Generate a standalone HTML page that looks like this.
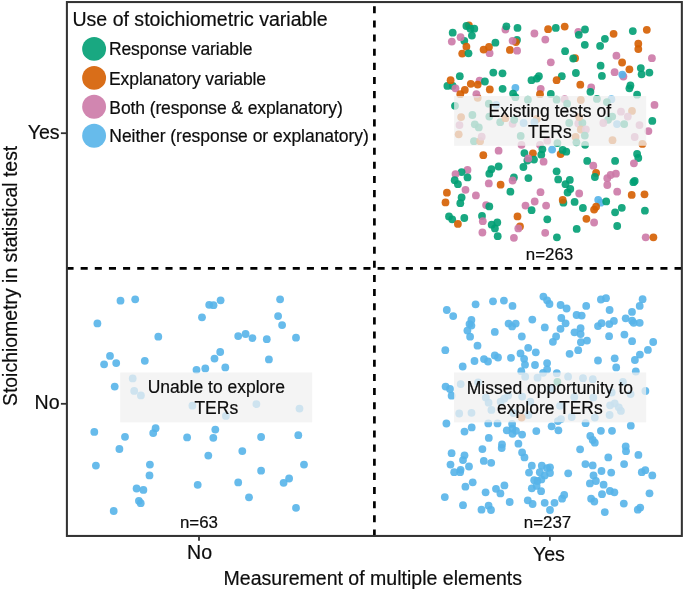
<!DOCTYPE html>
<html><head><meta charset="utf-8"><title>Use of stoichiometric variable</title>
<style>
html,body{margin:0;padding:0;background:#fff}
body{width:685px;height:590px;overflow:hidden}
svg{display:block}
text{font-family:"Liberation Sans",sans-serif;fill:#0d0d0d;stroke:#0d0d0d;stroke-width:0.2px}
</style></head><body>
<svg width="685" height="590" viewBox="0 0 685 590">
<rect width="685" height="590" fill="#fff"/>
<!-- dots -->
<g fill-opacity="0.9"><circle cx="477.7" cy="97.8" r="3.9" fill="#D55E00"/><circle cx="560.6" cy="154.1" r="3.9" fill="#D55E00"/><circle cx="479.6" cy="80.7" r="3.9" fill="#CC79A7"/><circle cx="489.6" cy="53.2" r="3.9" fill="#CC79A7"/><circle cx="468.9" cy="25.4" r="3.9" fill="#D55E00"/><circle cx="452.7" cy="32.7" r="3.9" fill="#009E73"/><circle cx="451.8" cy="41.6" r="3.9" fill="#CC79A7"/><circle cx="466.4" cy="26.0" r="3.9" fill="#009E73"/><circle cx="470.4" cy="28.7" r="3.9" fill="#009E73"/><circle cx="474.3" cy="28.7" r="3.9" fill="#009E73"/><circle cx="471.9" cy="35.6" r="3.9" fill="#009E73"/><circle cx="464.3" cy="40.8" r="3.9" fill="#009E73"/><circle cx="466.4" cy="46.7" r="3.9" fill="#D55E00"/><circle cx="462.2" cy="53.6" r="3.9" fill="#D55E00"/><circle cx="468.5" cy="53.3" r="3.9" fill="#009E73"/><circle cx="483.6" cy="49.6" r="3.9" fill="#D55E00"/><circle cx="489.0" cy="46.9" r="3.9" fill="#D55E00"/><circle cx="495.4" cy="42.7" r="3.9" fill="#009E73"/><circle cx="505.4" cy="29.5" r="3.9" fill="#CC79A7"/><circle cx="506.4" cy="26.3" r="3.9" fill="#009E73"/><circle cx="517.5" cy="27.9" r="3.9" fill="#009E73"/><circle cx="517.0" cy="40.0" r="3.9" fill="#009E73"/><circle cx="515.9" cy="42.1" r="3.9" fill="#D55E00"/><circle cx="512.6" cy="40.8" r="3.9" fill="#CC79A7"/><circle cx="509.9" cy="49.9" r="3.9" fill="#D55E00"/><circle cx="517.1" cy="50.7" r="3.9" fill="#CC79A7"/><circle cx="534.4" cy="33.5" r="3.9" fill="#CC79A7"/><circle cx="545.3" cy="39.6" r="3.9" fill="#CC79A7"/><circle cx="548.1" cy="29.2" r="3.9" fill="#D55E00"/><circle cx="550.8" cy="62.3" r="3.9" fill="#CC79A7"/><circle cx="459.8" cy="76.2" r="3.9" fill="#009E73"/><circle cx="447.4" cy="85.9" r="3.9" fill="#009E73"/><circle cx="452.7" cy="85.9" r="3.9" fill="#009E73"/><circle cx="455.5" cy="88.3" r="3.9" fill="#CC79A7"/><circle cx="470.8" cy="83.8" r="3.9" fill="#D55E00"/><circle cx="477.7" cy="84.6" r="3.9" fill="#D55E00"/><circle cx="484.9" cy="81.5" r="3.9" fill="#009E73"/><circle cx="464.8" cy="89.9" r="3.9" fill="#D55E00"/><circle cx="460.3" cy="94.2" r="3.9" fill="#D55E00"/><circle cx="476.4" cy="94.2" r="3.9" fill="#CC79A7"/><circle cx="489.8" cy="89.4" r="3.9" fill="#D55E00"/><circle cx="493.3" cy="72.6" r="3.9" fill="#009E73"/><circle cx="502.5" cy="73.3" r="3.9" fill="#009E73"/><circle cx="502.6" cy="88.8" r="3.9" fill="#009E73"/><circle cx="515.4" cy="87.8" r="3.9" fill="#56B4E9"/><circle cx="513.1" cy="93.6" r="3.9" fill="#009E73"/><circle cx="531.5" cy="80.2" r="3.9" fill="#009E73"/><circle cx="536.8" cy="78.6" r="3.9" fill="#009E73"/><circle cx="538.9" cy="76.2" r="3.9" fill="#009E73"/><circle cx="540.7" cy="88.8" r="3.9" fill="#CC79A7"/><circle cx="540.0" cy="94.2" r="3.9" fill="#D55E00"/><circle cx="550.8" cy="93.9" r="3.9" fill="#009E73"/><circle cx="555.8" cy="27.9" r="3.9" fill="#009E73"/><circle cx="564.7" cy="26.6" r="3.9" fill="#D55E00"/><circle cx="578.3" cy="31.9" r="3.9" fill="#CC79A7"/><circle cx="578.8" cy="34.8" r="3.9" fill="#009E73"/><circle cx="585.0" cy="29.5" r="3.9" fill="#009E73"/><circle cx="584.8" cy="44.8" r="3.9" fill="#009E73"/><circle cx="565.1" cy="51.2" r="3.9" fill="#009E73"/><circle cx="575.1" cy="58.2" r="3.9" fill="#D55E00"/><circle cx="573.2" cy="58.5" r="3.9" fill="#009E73"/><circle cx="575.9" cy="73.0" r="3.9" fill="#009E73"/><circle cx="561.8" cy="76.2" r="3.9" fill="#009E73"/><circle cx="556.6" cy="80.2" r="3.9" fill="#D55E00"/><circle cx="580.3" cy="84.7" r="3.9" fill="#D55E00"/><circle cx="591.2" cy="87.5" r="3.9" fill="#CC79A7"/><circle cx="590.4" cy="91.8" r="3.9" fill="#009E73"/><circle cx="604.9" cy="38.8" r="3.9" fill="#009E73"/><circle cx="600.1" cy="45.9" r="3.9" fill="#009E73"/><circle cx="613.6" cy="33.8" r="3.9" fill="#D55E00"/><circle cx="600.6" cy="65.7" r="3.9" fill="#009E73"/><circle cx="601.9" cy="75.9" r="3.9" fill="#009E73"/><circle cx="616.4" cy="55.7" r="3.9" fill="#CC79A7"/><circle cx="622.1" cy="62.5" r="3.9" fill="#D55E00"/><circle cx="629.4" cy="69.3" r="3.9" fill="#D55E00"/><circle cx="614.6" cy="72.2" r="3.9" fill="#CC79A7"/><circle cx="623.4" cy="76.5" r="3.9" fill="#CC79A7"/><circle cx="622.3" cy="74.6" r="3.9" fill="#56B4E9"/><circle cx="632.8" cy="31.1" r="3.9" fill="#009E73"/><circle cx="646.8" cy="29.8" r="3.9" fill="#D55E00"/><circle cx="638.3" cy="43.7" r="3.9" fill="#D55E00"/><circle cx="638.3" cy="49.1" r="3.9" fill="#D55E00"/><circle cx="651.9" cy="58.2" r="3.9" fill="#CC79A7"/><circle cx="640.8" cy="68.1" r="3.9" fill="#009E73"/><circle cx="641.6" cy="74.3" r="3.9" fill="#009E73"/><circle cx="649.4" cy="72.6" r="3.9" fill="#009E73"/><circle cx="630.4" cy="85.4" r="3.9" fill="#009E73"/><circle cx="629.4" cy="88.3" r="3.9" fill="#009E73"/><circle cx="637.1" cy="94.7" r="3.9" fill="#009E73"/><circle cx="654.5" cy="104.9" r="3.9" fill="#CC79A7"/><circle cx="455.0" cy="105.8" r="3.9" fill="#009E73"/><circle cx="461.1" cy="117.1" r="3.9" fill="#D55E00"/><circle cx="459.5" cy="125.1" r="3.9" fill="#CC79A7"/><circle cx="458.7" cy="134.3" r="3.9" fill="#D55E00"/><circle cx="472.4" cy="115.0" r="3.9" fill="#009E73"/><circle cx="474.8" cy="124.3" r="3.9" fill="#009E73"/><circle cx="478.8" cy="127.4" r="3.9" fill="#009E73"/><circle cx="474.0" cy="141.2" r="3.9" fill="#009E73"/><circle cx="480.1" cy="141.2" r="3.9" fill="#D55E00"/><circle cx="481.7" cy="136.7" r="3.9" fill="#CC79A7"/><circle cx="488.8" cy="103.7" r="3.9" fill="#009E73"/><circle cx="496.2" cy="104.8" r="3.9" fill="#56B4E9"/><circle cx="489.3" cy="116.6" r="3.9" fill="#009E73"/><circle cx="500.2" cy="122.2" r="3.9" fill="#009E73"/><circle cx="505.4" cy="118.2" r="3.9" fill="#D55E00"/><circle cx="512.6" cy="123.8" r="3.9" fill="#CC79A7"/><circle cx="514.2" cy="119.8" r="3.9" fill="#009E73"/><circle cx="523.6" cy="123.0" r="3.9" fill="#56B4E9"/><circle cx="527.9" cy="99.7" r="3.9" fill="#009E73"/><circle cx="515.4" cy="97.2" r="3.9" fill="#009E73"/><circle cx="520.7" cy="135.9" r="3.9" fill="#009E73"/><circle cx="521.5" cy="144.8" r="3.9" fill="#CC79A7"/><circle cx="536.8" cy="119.0" r="3.9" fill="#D55E00"/><circle cx="534.4" cy="122.2" r="3.9" fill="#56B4E9"/><circle cx="547.3" cy="140.7" r="3.9" fill="#CC79A7"/><circle cx="540.0" cy="144.8" r="3.9" fill="#CC79A7"/><circle cx="498.6" cy="150.7" r="3.9" fill="#CC79A7"/><circle cx="483.3" cy="155.2" r="3.9" fill="#D55E00"/><circle cx="524.4" cy="153.1" r="3.9" fill="#009E73"/><circle cx="532.9" cy="153.3" r="3.9" fill="#D55E00"/><circle cx="542.4" cy="149.3" r="3.9" fill="#009E73"/><circle cx="541.3" cy="154.7" r="3.9" fill="#009E73"/><circle cx="552.1" cy="149.6" r="3.9" fill="#56B4E9"/><circle cx="527.4" cy="160.5" r="3.9" fill="#009E73"/><circle cx="534.0" cy="159.6" r="3.9" fill="#009E73"/><circle cx="543.6" cy="161.7" r="3.9" fill="#CC79A7"/><circle cx="523.4" cy="167.0" r="3.9" fill="#009E73"/><circle cx="498.6" cy="166.5" r="3.9" fill="#009E73"/><circle cx="491.4" cy="169.2" r="3.9" fill="#009E73"/><circle cx="489.3" cy="173.7" r="3.9" fill="#009E73"/><circle cx="467.5" cy="170.0" r="3.9" fill="#CC79A7"/><circle cx="461.6" cy="172.1" r="3.9" fill="#009E73"/><circle cx="455.5" cy="174.1" r="3.9" fill="#CC79A7"/><circle cx="467.5" cy="177.4" r="3.9" fill="#009E73"/><circle cx="454.7" cy="180.2" r="3.9" fill="#009E73"/><circle cx="457.9" cy="184.2" r="3.9" fill="#009E73"/><circle cx="528.4" cy="178.1" r="3.9" fill="#009E73"/><circle cx="513.9" cy="177.4" r="3.9" fill="#009E73"/><circle cx="512.6" cy="180.5" r="3.9" fill="#CC79A7"/><circle cx="488.8" cy="183.4" r="3.9" fill="#CC79A7"/><circle cx="500.6" cy="184.7" r="3.9" fill="#D55E00"/><circle cx="465.5" cy="189.8" r="3.9" fill="#CC79A7"/><circle cx="446.9" cy="192.7" r="3.9" fill="#D55E00"/><circle cx="461.6" cy="197.4" r="3.9" fill="#009E73"/><circle cx="445.5" cy="202.4" r="3.9" fill="#D55E00"/><circle cx="460.3" cy="203.2" r="3.9" fill="#009E73"/><circle cx="475.9" cy="195.4" r="3.9" fill="#CC79A7"/><circle cx="449.0" cy="216.4" r="3.9" fill="#009E73"/><circle cx="452.2" cy="219.3" r="3.9" fill="#009E73"/><circle cx="464.3" cy="218.0" r="3.9" fill="#009E73"/><circle cx="457.9" cy="223.9" r="3.9" fill="#D55E00"/><circle cx="486.1" cy="205.1" r="3.9" fill="#CC79A7"/><circle cx="489.3" cy="206.4" r="3.9" fill="#009E73"/><circle cx="482.0" cy="216.0" r="3.9" fill="#009E73"/><circle cx="482.8" cy="221.2" r="3.9" fill="#CC79A7"/><circle cx="482.4" cy="232.5" r="3.9" fill="#CC79A7"/><circle cx="491.7" cy="224.7" r="3.9" fill="#009E73"/><circle cx="497.3" cy="222.5" r="3.9" fill="#009E73"/><circle cx="494.9" cy="228.4" r="3.9" fill="#009E73"/><circle cx="497.7" cy="236.2" r="3.9" fill="#009E73"/><circle cx="510.4" cy="191.7" r="3.9" fill="#009E73"/><circle cx="540.5" cy="192.2" r="3.9" fill="#CC79A7"/><circle cx="534.7" cy="201.5" r="3.9" fill="#CC79A7"/><circle cx="525.5" cy="205.6" r="3.9" fill="#CC79A7"/><circle cx="531.6" cy="210.2" r="3.9" fill="#009E73"/><circle cx="546.1" cy="205.6" r="3.9" fill="#CC79A7"/><circle cx="517.5" cy="216.4" r="3.9" fill="#D55E00"/><circle cx="520.0" cy="226.5" r="3.9" fill="#D55E00"/><circle cx="518.3" cy="228.4" r="3.9" fill="#CC79A7"/><circle cx="513.9" cy="237.8" r="3.9" fill="#CC79A7"/><circle cx="547.3" cy="219.3" r="3.9" fill="#009E73"/><circle cx="545.2" cy="232.8" r="3.9" fill="#CC79A7"/><circle cx="564.7" cy="99.2" r="3.9" fill="#CC79A7"/><circle cx="556.6" cy="99.7" r="3.9" fill="#009E73"/><circle cx="567.1" cy="103.7" r="3.9" fill="#009E73"/><circle cx="580.8" cy="100.0" r="3.9" fill="#D55E00"/><circle cx="596.9" cy="98.9" r="3.9" fill="#009E73"/><circle cx="611.4" cy="99.2" r="3.9" fill="#56B4E9"/><circle cx="606.9" cy="102.1" r="3.9" fill="#009E73"/><circle cx="621.0" cy="111.7" r="3.9" fill="#CC79A7"/><circle cx="632.0" cy="110.9" r="3.9" fill="#D55E00"/><circle cx="627.8" cy="116.6" r="3.9" fill="#CC79A7"/><circle cx="612.2" cy="116.6" r="3.9" fill="#009E73"/><circle cx="608.1" cy="119.8" r="3.9" fill="#009E73"/><circle cx="603.3" cy="123.0" r="3.9" fill="#CC79A7"/><circle cx="617.0" cy="124.1" r="3.9" fill="#56B4E9"/><circle cx="624.2" cy="124.1" r="3.9" fill="#009E73"/><circle cx="639.5" cy="125.1" r="3.9" fill="#CC79A7"/><circle cx="634.7" cy="137.0" r="3.9" fill="#CC79A7"/><circle cx="612.5" cy="140.2" r="3.9" fill="#D55E00"/><circle cx="642.4" cy="143.9" r="3.9" fill="#D55E00"/><circle cx="569.2" cy="123.0" r="3.9" fill="#009E73"/><circle cx="578.3" cy="123.5" r="3.9" fill="#CC79A7"/><circle cx="582.4" cy="123.0" r="3.9" fill="#009E73"/><circle cx="580.8" cy="129.5" r="3.9" fill="#D55E00"/><circle cx="585.9" cy="129.5" r="3.9" fill="#CC79A7"/><circle cx="584.8" cy="135.6" r="3.9" fill="#009E73"/><circle cx="575.6" cy="137.0" r="3.9" fill="#D55E00"/><circle cx="576.4" cy="142.3" r="3.9" fill="#009E73"/><circle cx="585.1" cy="144.8" r="3.9" fill="#009E73"/><circle cx="557.4" cy="143.1" r="3.9" fill="#009E73"/><circle cx="579.2" cy="117.1" r="3.9" fill="#D55E00"/><circle cx="652.3" cy="120.9" r="3.9" fill="#009E73"/><circle cx="648.4" cy="131.1" r="3.9" fill="#CC79A7"/><circle cx="562.7" cy="149.9" r="3.9" fill="#009E73"/><circle cx="566.3" cy="151.7" r="3.9" fill="#009E73"/><circle cx="587.2" cy="160.9" r="3.9" fill="#009E73"/><circle cx="593.3" cy="165.7" r="3.9" fill="#CC79A7"/><circle cx="615.1" cy="160.9" r="3.9" fill="#009E73"/><circle cx="637.1" cy="153.9" r="3.9" fill="#009E73"/><circle cx="638.3" cy="158.0" r="3.9" fill="#009E73"/><circle cx="633.9" cy="163.3" r="3.9" fill="#CC79A7"/><circle cx="596.1" cy="172.9" r="3.9" fill="#D55E00"/><circle cx="594.9" cy="177.0" r="3.9" fill="#009E73"/><circle cx="615.9" cy="173.7" r="3.9" fill="#CC79A7"/><circle cx="610.6" cy="175.0" r="3.9" fill="#CC79A7"/><circle cx="607.3" cy="178.2" r="3.9" fill="#CC79A7"/><circle cx="607.3" cy="185.0" r="3.9" fill="#CC79A7"/><circle cx="556.6" cy="171.3" r="3.9" fill="#009E73"/><circle cx="558.2" cy="179.4" r="3.9" fill="#009E73"/><circle cx="569.8" cy="179.9" r="3.9" fill="#009E73"/><circle cx="565.5" cy="184.2" r="3.9" fill="#009E73"/><circle cx="634.7" cy="181.0" r="3.9" fill="#009E73"/><circle cx="617.2" cy="191.7" r="3.9" fill="#CC79A7"/><circle cx="633.4" cy="182.2" r="3.9" fill="#009E73"/><circle cx="570.3" cy="189.0" r="3.9" fill="#009E73"/><circle cx="567.6" cy="192.5" r="3.9" fill="#009E73"/><circle cx="579.2" cy="193.5" r="3.9" fill="#CC79A7"/><circle cx="563.4" cy="202.7" r="3.9" fill="#009E73"/><circle cx="562.7" cy="199.9" r="3.9" fill="#D55E00"/><circle cx="574.6" cy="201.9" r="3.9" fill="#009E73"/><circle cx="582.9" cy="208.0" r="3.9" fill="#009E73"/><circle cx="598.2" cy="199.8" r="3.9" fill="#56B4E9"/><circle cx="600.6" cy="202.7" r="3.9" fill="#56B4E9"/><circle cx="606.2" cy="201.4" r="3.9" fill="#009E73"/><circle cx="596.1" cy="206.7" r="3.9" fill="#D55E00"/><circle cx="594.1" cy="209.6" r="3.9" fill="#D55E00"/><circle cx="586.4" cy="218.8" r="3.9" fill="#D55E00"/><circle cx="594.1" cy="222.5" r="3.9" fill="#CC79A7"/><circle cx="576.7" cy="228.9" r="3.9" fill="#009E73"/><circle cx="556.9" cy="237.3" r="3.9" fill="#009E73"/><circle cx="621.8" cy="207.8" r="3.9" fill="#009E73"/><circle cx="615.1" cy="212.3" r="3.9" fill="#009E73"/><circle cx="617.2" cy="226.0" r="3.9" fill="#009E73"/><circle cx="631.7" cy="194.9" r="3.9" fill="#D55E00"/><circle cx="644.5" cy="194.3" r="3.9" fill="#D55E00"/><circle cx="644.9" cy="210.7" r="3.9" fill="#009E73"/><circle cx="645.7" cy="237.3" r="3.9" fill="#CC79A7"/><circle cx="653.4" cy="237.3" r="3.9" fill="#D55E00"/><circle cx="120.5" cy="300.7" r="3.9" fill="#56B4E9"/><circle cx="135.2" cy="299.3" r="3.9" fill="#56B4E9"/><circle cx="97.4" cy="323.4" r="3.9" fill="#56B4E9"/><circle cx="158.3" cy="336.7" r="3.9" fill="#56B4E9"/><circle cx="110.0" cy="355.9" r="3.9" fill="#56B4E9"/><circle cx="104.1" cy="364.3" r="3.9" fill="#56B4E9"/><circle cx="116.2" cy="363.1" r="3.9" fill="#56B4E9"/><circle cx="144.8" cy="360.8" r="3.9" fill="#56B4E9"/><circle cx="114.7" cy="386.6" r="3.9" fill="#56B4E9"/><circle cx="132.7" cy="378.4" r="3.9" fill="#56B4E9"/><circle cx="134.2" cy="390.9" r="3.9" fill="#56B4E9"/><circle cx="140.9" cy="395.4" r="3.9" fill="#56B4E9"/><circle cx="202.0" cy="317.3" r="3.9" fill="#56B4E9"/><circle cx="209.2" cy="304.8" r="3.9" fill="#56B4E9"/><circle cx="213.5" cy="305.2" r="3.9" fill="#56B4E9"/><circle cx="214.5" cy="358.6" r="3.9" fill="#56B4E9"/><circle cx="205.3" cy="368.4" r="3.9" fill="#56B4E9"/><circle cx="196.5" cy="369.8" r="3.9" fill="#56B4E9"/><circle cx="220.6" cy="300.3" r="3.9" fill="#56B4E9"/><circle cx="280.1" cy="299.3" r="3.9" fill="#56B4E9"/><circle cx="278.1" cy="316.1" r="3.9" fill="#56B4E9"/><circle cx="282.1" cy="325.1" r="3.9" fill="#56B4E9"/><circle cx="296.0" cy="337.7" r="3.9" fill="#56B4E9"/><circle cx="238.2" cy="336.1" r="3.9" fill="#56B4E9"/><circle cx="245.6" cy="334.0" r="3.9" fill="#56B4E9"/><circle cx="252.5" cy="338.1" r="3.9" fill="#56B4E9"/><circle cx="266.8" cy="339.2" r="3.9" fill="#56B4E9"/><circle cx="268.9" cy="359.4" r="3.9" fill="#56B4E9"/><circle cx="220.2" cy="352.0" r="3.9" fill="#56B4E9"/><circle cx="225.3" cy="367.4" r="3.9" fill="#56B4E9"/><circle cx="94.3" cy="431.9" r="3.9" fill="#56B4E9"/><circle cx="125.0" cy="436.8" r="3.9" fill="#56B4E9"/><circle cx="119.4" cy="449.0" r="3.9" fill="#56B4E9"/><circle cx="95.9" cy="465.6" r="3.9" fill="#56B4E9"/><circle cx="155.6" cy="428.2" r="3.9" fill="#56B4E9"/><circle cx="153.2" cy="433.1" r="3.9" fill="#56B4E9"/><circle cx="149.9" cy="464.6" r="3.9" fill="#56B4E9"/><circle cx="149.5" cy="475.4" r="3.9" fill="#56B4E9"/><circle cx="136.6" cy="488.5" r="3.9" fill="#56B4E9"/><circle cx="143.4" cy="489.9" r="3.9" fill="#56B4E9"/><circle cx="138.9" cy="500.8" r="3.9" fill="#56B4E9"/><circle cx="140.7" cy="503.2" r="3.9" fill="#56B4E9"/><circle cx="113.7" cy="511.0" r="3.9" fill="#56B4E9"/><circle cx="187.1" cy="437.4" r="3.9" fill="#56B4E9"/><circle cx="215.3" cy="429.6" r="3.9" fill="#56B4E9"/><circle cx="213.3" cy="437.8" r="3.9" fill="#56B4E9"/><circle cx="208.3" cy="455.6" r="3.9" fill="#56B4E9"/><circle cx="197.7" cy="484.8" r="3.9" fill="#56B4E9"/><circle cx="192.4" cy="405.7" r="3.9" fill="#56B4E9"/><circle cx="261.1" cy="437.0" r="3.9" fill="#56B4E9"/><circle cx="298.3" cy="435.2" r="3.9" fill="#56B4E9"/><circle cx="242.3" cy="451.1" r="3.9" fill="#56B4E9"/><circle cx="261.1" cy="470.7" r="3.9" fill="#56B4E9"/><circle cx="304.0" cy="464.6" r="3.9" fill="#56B4E9"/><circle cx="238.2" cy="482.4" r="3.9" fill="#56B4E9"/><circle cx="289.1" cy="478.5" r="3.9" fill="#56B4E9"/><circle cx="283.6" cy="482.8" r="3.9" fill="#56B4E9"/><circle cx="249.0" cy="497.3" r="3.9" fill="#56B4E9"/><circle cx="296.0" cy="507.9" r="3.9" fill="#56B4E9"/><circle cx="256.4" cy="404.1" r="3.9" fill="#56B4E9"/><circle cx="299.5" cy="408.6" r="3.9" fill="#56B4E9"/><circle cx="225.9" cy="415.9" r="3.9" fill="#56B4E9"/><circle cx="446.8" cy="310.0" r="3.9" fill="#56B4E9"/><circle cx="453.2" cy="316.1" r="3.9" fill="#56B4E9"/><circle cx="475.6" cy="304.3" r="3.9" fill="#56B4E9"/><circle cx="493.0" cy="301.3" r="3.9" fill="#56B4E9"/><circle cx="503.9" cy="300.6" r="3.9" fill="#56B4E9"/><circle cx="512.5" cy="305.9" r="3.9" fill="#56B4E9"/><circle cx="471.4" cy="319.9" r="3.9" fill="#56B4E9"/><circle cx="469.5" cy="324.1" r="3.9" fill="#56B4E9"/><circle cx="471.4" cy="325.6" r="3.9" fill="#56B4E9"/><circle cx="467.4" cy="330.6" r="3.9" fill="#56B4E9"/><circle cx="470.1" cy="336.7" r="3.9" fill="#56B4E9"/><circle cx="494.8" cy="331.9" r="3.9" fill="#56B4E9"/><circle cx="508.6" cy="323.6" r="3.9" fill="#56B4E9"/><circle cx="512.1" cy="326.4" r="3.9" fill="#56B4E9"/><circle cx="515.7" cy="323.6" r="3.9" fill="#56B4E9"/><circle cx="532.3" cy="319.6" r="3.9" fill="#56B4E9"/><circle cx="521.8" cy="336.5" r="3.9" fill="#56B4E9"/><circle cx="544.8" cy="327.4" r="3.9" fill="#56B4E9"/><circle cx="543.4" cy="296.6" r="3.9" fill="#56B4E9"/><circle cx="547.1" cy="300.3" r="3.9" fill="#56B4E9"/><circle cx="477.5" cy="345.7" r="3.9" fill="#56B4E9"/><circle cx="445.3" cy="350.2" r="3.9" fill="#56B4E9"/><circle cx="462.7" cy="366.5" r="3.9" fill="#56B4E9"/><circle cx="474.5" cy="361.0" r="3.9" fill="#56B4E9"/><circle cx="484.0" cy="359.1" r="3.9" fill="#56B4E9"/><circle cx="488.0" cy="361.5" r="3.9" fill="#56B4E9"/><circle cx="494.8" cy="355.4" r="3.9" fill="#56B4E9"/><circle cx="498.0" cy="357.5" r="3.9" fill="#56B4E9"/><circle cx="511.0" cy="357.8" r="3.9" fill="#56B4E9"/><circle cx="528.2" cy="347.8" r="3.9" fill="#56B4E9"/><circle cx="520.5" cy="353.4" r="3.9" fill="#56B4E9"/><circle cx="535.8" cy="352.3" r="3.9" fill="#56B4E9"/><circle cx="524.1" cy="358.8" r="3.9" fill="#56B4E9"/><circle cx="525.0" cy="364.7" r="3.9" fill="#56B4E9"/><circle cx="535.0" cy="365.0" r="3.9" fill="#56B4E9"/><circle cx="521.3" cy="371.2" r="3.9" fill="#56B4E9"/><circle cx="547.1" cy="363.1" r="3.9" fill="#56B4E9"/><circle cx="547.1" cy="369.5" r="3.9" fill="#56B4E9"/><circle cx="543.1" cy="372.8" r="3.9" fill="#56B4E9"/><circle cx="549.5" cy="304.0" r="3.9" fill="#56B4E9"/><circle cx="560.6" cy="305.0" r="3.9" fill="#56B4E9"/><circle cx="566.6" cy="308.5" r="3.9" fill="#56B4E9"/><circle cx="586.2" cy="305.9" r="3.9" fill="#56B4E9"/><circle cx="600.9" cy="299.5" r="3.9" fill="#56B4E9"/><circle cx="606.0" cy="298.2" r="3.9" fill="#56B4E9"/><circle cx="609.6" cy="310.0" r="3.9" fill="#56B4E9"/><circle cx="642.6" cy="299.2" r="3.9" fill="#56B4E9"/><circle cx="639.7" cy="305.9" r="3.9" fill="#56B4E9"/><circle cx="632.0" cy="311.9" r="3.9" fill="#56B4E9"/><circle cx="561.3" cy="318.0" r="3.9" fill="#56B4E9"/><circle cx="565.6" cy="323.3" r="3.9" fill="#56B4E9"/><circle cx="560.5" cy="328.8" r="3.9" fill="#56B4E9"/><circle cx="576.6" cy="315.0" r="3.9" fill="#56B4E9"/><circle cx="581.7" cy="315.6" r="3.9" fill="#56B4E9"/><circle cx="556.1" cy="336.5" r="3.9" fill="#56B4E9"/><circle cx="552.9" cy="341.8" r="3.9" fill="#56B4E9"/><circle cx="580.6" cy="328.2" r="3.9" fill="#56B4E9"/><circle cx="574.5" cy="332.3" r="3.9" fill="#56B4E9"/><circle cx="580.6" cy="334.1" r="3.9" fill="#56B4E9"/><circle cx="580.9" cy="342.2" r="3.9" fill="#56B4E9"/><circle cx="587.0" cy="340.6" r="3.9" fill="#56B4E9"/><circle cx="578.2" cy="350.2" r="3.9" fill="#56B4E9"/><circle cx="569.6" cy="353.8" r="3.9" fill="#56B4E9"/><circle cx="598.0" cy="326.1" r="3.9" fill="#56B4E9"/><circle cx="601.5" cy="323.2" r="3.9" fill="#56B4E9"/><circle cx="609.3" cy="324.1" r="3.9" fill="#56B4E9"/><circle cx="613.9" cy="320.9" r="3.9" fill="#56B4E9"/><circle cx="609.1" cy="336.2" r="3.9" fill="#56B4E9"/><circle cx="625.7" cy="318.3" r="3.9" fill="#56B4E9"/><circle cx="632.1" cy="320.7" r="3.9" fill="#56B4E9"/><circle cx="633.7" cy="322.8" r="3.9" fill="#56B4E9"/><circle cx="639.7" cy="322.8" r="3.9" fill="#56B4E9"/><circle cx="624.4" cy="334.6" r="3.9" fill="#56B4E9"/><circle cx="632.1" cy="341.2" r="3.9" fill="#56B4E9"/><circle cx="653.2" cy="342.0" r="3.9" fill="#56B4E9"/><circle cx="647.9" cy="349.9" r="3.9" fill="#56B4E9"/><circle cx="639.9" cy="354.6" r="3.9" fill="#56B4E9"/><circle cx="634.9" cy="360.0" r="3.9" fill="#56B4E9"/><circle cx="598.0" cy="360.5" r="3.9" fill="#56B4E9"/><circle cx="614.7" cy="358.3" r="3.9" fill="#56B4E9"/><circle cx="616.2" cy="367.4" r="3.9" fill="#56B4E9"/><circle cx="635.8" cy="371.5" r="3.9" fill="#56B4E9"/><circle cx="556.8" cy="373.2" r="3.9" fill="#56B4E9"/><circle cx="445.6" cy="386.6" r="3.9" fill="#56B4E9"/><circle cx="450.0" cy="389.0" r="3.9" fill="#56B4E9"/><circle cx="451.6" cy="395.7" r="3.9" fill="#56B4E9"/><circle cx="460.7" cy="384.1" r="3.9" fill="#56B4E9"/><circle cx="478.1" cy="382.3" r="3.9" fill="#56B4E9"/><circle cx="459.2" cy="413.5" r="3.9" fill="#56B4E9"/><circle cx="471.5" cy="412.8" r="3.9" fill="#56B4E9"/><circle cx="485.8" cy="397.6" r="3.9" fill="#56B4E9"/><circle cx="488.6" cy="402.7" r="3.9" fill="#56B4E9"/><circle cx="491.4" cy="409.9" r="3.9" fill="#56B4E9"/><circle cx="500.6" cy="401.7" r="3.9" fill="#56B4E9"/><circle cx="504.2" cy="398.7" r="3.9" fill="#56B4E9"/><circle cx="508.2" cy="395.6" r="3.9" fill="#56B4E9"/><circle cx="513.4" cy="413.0" r="3.9" fill="#56B4E9"/><circle cx="525.2" cy="376.7" r="3.9" fill="#56B4E9"/><circle cx="537.5" cy="377.7" r="3.9" fill="#56B4E9"/><circle cx="568.1" cy="376.7" r="3.9" fill="#56B4E9"/><circle cx="557.4" cy="381.8" r="3.9" fill="#009E73"/><circle cx="550.8" cy="388.4" r="3.9" fill="#56B4E9"/><circle cx="583.0" cy="378.2" r="3.9" fill="#56B4E9"/><circle cx="574.3" cy="397.1" r="3.9" fill="#56B4E9"/><circle cx="522.2" cy="396.6" r="3.9" fill="#56B4E9"/><circle cx="530.3" cy="401.7" r="3.9" fill="#56B4E9"/><circle cx="560.0" cy="405.8" r="3.9" fill="#56B4E9"/><circle cx="528.3" cy="415.0" r="3.9" fill="#56B4E9"/><circle cx="521.6" cy="417.6" r="3.9" fill="#D55E00"/><circle cx="571.7" cy="417.0" r="3.9" fill="#56B4E9"/><circle cx="561.0" cy="419.1" r="3.9" fill="#56B4E9"/><circle cx="557.9" cy="421.1" r="3.9" fill="#56B4E9"/><circle cx="592.8" cy="379.2" r="3.9" fill="#56B4E9"/><circle cx="622.9" cy="381.8" r="3.9" fill="#56B4E9"/><circle cx="611.7" cy="392.5" r="3.9" fill="#56B4E9"/><circle cx="630.6" cy="394.1" r="3.9" fill="#56B4E9"/><circle cx="593.3" cy="397.6" r="3.9" fill="#56B4E9"/><circle cx="610.1" cy="405.3" r="3.9" fill="#56B4E9"/><circle cx="614.7" cy="403.3" r="3.9" fill="#56B4E9"/><circle cx="618.8" cy="407.3" r="3.9" fill="#56B4E9"/><circle cx="620.9" cy="410.9" r="3.9" fill="#56B4E9"/><circle cx="609.6" cy="415.0" r="3.9" fill="#56B4E9"/><circle cx="594.8" cy="417.6" r="3.9" fill="#56B4E9"/><circle cx="645.4" cy="391.0" r="3.9" fill="#56B4E9"/><circle cx="585.6" cy="423.2" r="3.9" fill="#56B4E9"/><circle cx="630.8" cy="425.7" r="3.9" fill="#56B4E9"/><circle cx="446.4" cy="423.5" r="3.9" fill="#56B4E9"/><circle cx="471.7" cy="427.4" r="3.9" fill="#56B4E9"/><circle cx="464.5" cy="431.6" r="3.9" fill="#56B4E9"/><circle cx="488.3" cy="423.4" r="3.9" fill="#56B4E9"/><circle cx="497.5" cy="423.4" r="3.9" fill="#56B4E9"/><circle cx="512.1" cy="423.9" r="3.9" fill="#56B4E9"/><circle cx="506.8" cy="430.3" r="3.9" fill="#56B4E9"/><circle cx="512.5" cy="428.7" r="3.9" fill="#56B4E9"/><circle cx="516.0" cy="430.8" r="3.9" fill="#56B4E9"/><circle cx="512.5" cy="433.8" r="3.9" fill="#56B4E9"/><circle cx="522.1" cy="434.6" r="3.9" fill="#56B4E9"/><circle cx="536.3" cy="431.1" r="3.9" fill="#56B4E9"/><circle cx="488.8" cy="437.9" r="3.9" fill="#56B4E9"/><circle cx="518.4" cy="443.7" r="3.9" fill="#56B4E9"/><circle cx="502.0" cy="444.5" r="3.9" fill="#56B4E9"/><circle cx="501.7" cy="448.0" r="3.9" fill="#56B4E9"/><circle cx="482.4" cy="449.1" r="3.9" fill="#56B4E9"/><circle cx="451.6" cy="453.2" r="3.9" fill="#56B4E9"/><circle cx="464.5" cy="455.3" r="3.9" fill="#56B4E9"/><circle cx="463.0" cy="460.1" r="3.9" fill="#56B4E9"/><circle cx="450.5" cy="464.6" r="3.9" fill="#56B4E9"/><circle cx="469.0" cy="466.5" r="3.9" fill="#56B4E9"/><circle cx="460.6" cy="469.8" r="3.9" fill="#56B4E9"/><circle cx="454.2" cy="472.2" r="3.9" fill="#56B4E9"/><circle cx="460.1" cy="472.2" r="3.9" fill="#56B4E9"/><circle cx="483.8" cy="460.9" r="3.9" fill="#56B4E9"/><circle cx="491.2" cy="462.8" r="3.9" fill="#56B4E9"/><circle cx="522.1" cy="452.4" r="3.9" fill="#56B4E9"/><circle cx="524.5" cy="457.4" r="3.9" fill="#56B4E9"/><circle cx="531.8" cy="465.7" r="3.9" fill="#56B4E9"/><circle cx="541.8" cy="465.7" r="3.9" fill="#56B4E9"/><circle cx="547.1" cy="468.1" r="3.9" fill="#56B4E9"/><circle cx="539.8" cy="472.2" r="3.9" fill="#56B4E9"/><circle cx="529.0" cy="472.6" r="3.9" fill="#56B4E9"/><circle cx="544.7" cy="475.4" r="3.9" fill="#56B4E9"/><circle cx="534.2" cy="480.2" r="3.9" fill="#56B4E9"/><circle cx="537.4" cy="481.0" r="3.9" fill="#56B4E9"/><circle cx="541.4" cy="479.4" r="3.9" fill="#56B4E9"/><circle cx="536.6" cy="485.9" r="3.9" fill="#56B4E9"/><circle cx="531.8" cy="488.3" r="3.9" fill="#56B4E9"/><circle cx="541.1" cy="491.2" r="3.9" fill="#56B4E9"/><circle cx="472.7" cy="482.3" r="3.9" fill="#56B4E9"/><circle cx="465.4" cy="486.7" r="3.9" fill="#56B4E9"/><circle cx="485.6" cy="492.3" r="3.9" fill="#56B4E9"/><circle cx="496.0" cy="488.8" r="3.9" fill="#56B4E9"/><circle cx="500.4" cy="493.4" r="3.9" fill="#56B4E9"/><circle cx="504.4" cy="485.4" r="3.9" fill="#56B4E9"/><circle cx="444.8" cy="497.1" r="3.9" fill="#56B4E9"/><circle cx="463.0" cy="505.2" r="3.9" fill="#56B4E9"/><circle cx="509.7" cy="502.0" r="3.9" fill="#56B4E9"/><circle cx="527.8" cy="500.3" r="3.9" fill="#56B4E9"/><circle cx="532.6" cy="504.0" r="3.9" fill="#56B4E9"/><circle cx="544.7" cy="502.8" r="3.9" fill="#56B4E9"/><circle cx="488.6" cy="505.7" r="3.9" fill="#56B4E9"/><circle cx="481.5" cy="509.7" r="3.9" fill="#56B4E9"/><circle cx="491.0" cy="510.0" r="3.9" fill="#56B4E9"/><circle cx="550.0" cy="473.0" r="3.9" fill="#56B4E9"/><circle cx="551.6" cy="426.3" r="3.9" fill="#56B4E9"/><circle cx="558.4" cy="430.3" r="3.9" fill="#56B4E9"/><circle cx="600.9" cy="430.8" r="3.9" fill="#56B4E9"/><circle cx="612.0" cy="430.8" r="3.9" fill="#56B4E9"/><circle cx="590.3" cy="435.9" r="3.9" fill="#56B4E9"/><circle cx="592.7" cy="440.0" r="3.9" fill="#56B4E9"/><circle cx="594.8" cy="442.7" r="3.9" fill="#56B4E9"/><circle cx="580.1" cy="449.3" r="3.9" fill="#56B4E9"/><circle cx="625.7" cy="446.4" r="3.9" fill="#56B4E9"/><circle cx="626.0" cy="451.2" r="3.9" fill="#56B4E9"/><circle cx="638.4" cy="454.9" r="3.9" fill="#56B4E9"/><circle cx="608.3" cy="457.4" r="3.9" fill="#56B4E9"/><circle cx="624.1" cy="464.1" r="3.9" fill="#56B4E9"/><circle cx="585.4" cy="464.1" r="3.9" fill="#56B4E9"/><circle cx="592.7" cy="465.4" r="3.9" fill="#56B4E9"/><circle cx="601.5" cy="471.0" r="3.9" fill="#56B4E9"/><circle cx="611.2" cy="472.6" r="3.9" fill="#56B4E9"/><circle cx="568.2" cy="473.3" r="3.9" fill="#56B4E9"/><circle cx="550.0" cy="467.3" r="3.9" fill="#56B4E9"/><circle cx="593.5" cy="475.4" r="3.9" fill="#56B4E9"/><circle cx="595.9" cy="481.0" r="3.9" fill="#56B4E9"/><circle cx="589.9" cy="483.4" r="3.9" fill="#56B4E9"/><circle cx="603.6" cy="484.7" r="3.9" fill="#56B4E9"/><circle cx="609.9" cy="491.0" r="3.9" fill="#56B4E9"/><circle cx="614.4" cy="492.3" r="3.9" fill="#56B4E9"/><circle cx="602.0" cy="494.2" r="3.9" fill="#56B4E9"/><circle cx="591.1" cy="498.7" r="3.9" fill="#56B4E9"/><circle cx="594.3" cy="501.5" r="3.9" fill="#56B4E9"/><circle cx="564.2" cy="495.0" r="3.9" fill="#56B4E9"/><circle cx="562.1" cy="498.7" r="3.9" fill="#56B4E9"/><circle cx="554.5" cy="502.8" r="3.9" fill="#56B4E9"/><circle cx="623.8" cy="503.6" r="3.9" fill="#56B4E9"/><circle cx="640.2" cy="507.6" r="3.9" fill="#56B4E9"/><circle cx="637.8" cy="509.7" r="3.9" fill="#56B4E9"/><circle cx="604.8" cy="512.1" r="3.9" fill="#56B4E9"/><circle cx="641.8" cy="472.2" r="3.9" fill="#56B4E9"/><circle cx="645.3" cy="470.2" r="3.9" fill="#56B4E9"/><circle cx="652.3" cy="475.4" r="3.9" fill="#56B4E9"/><circle cx="649.5" cy="493.3" r="3.9" fill="#56B4E9"/><circle cx="550.0" cy="510.0" r="3.9" fill="#56B4E9"/><circle cx="460.6" cy="37.2" r="3.9" fill="#CC79A7"/><circle cx="450.6" cy="80.2" r="3.9" fill="#D55E00"/><circle cx="528.3" cy="158.4" r="3.9" fill="#CC79A7"/></g>
<!-- dashed lines -->
<line x1="66.5" y1="268.4" x2="682" y2="268.4" stroke="#000" stroke-width="2.7" stroke-dasharray="7.07 7.07"/>
<line x1="374.4" y1="536.5" x2="374.4" y2="2" stroke="#000" stroke-width="2.7" stroke-dasharray="7.07 7.07"/>
<!-- label boxes -->
<rect x="454.1" y="96" width="192" height="49.8" fill="#f0f0f0" fill-opacity="0.75"/>
<rect x="120.2" y="372.5" width="192" height="49.8" fill="#f0f0f0" fill-opacity="0.75"/>
<rect x="454.0" y="372.5" width="192.1" height="49.8" fill="#f0f0f0" fill-opacity="0.75"/>
<g font-size="17.5" text-anchor="middle">
<text id="b1a" x="549.8" y="116.8">Existing tests of</text>
<text id="b1b" x="549.8" y="137.6">TERs</text>
<text id="b2a" x="216.3" y="393.2">Unable to explore</text>
<text id="b2b" x="216.3" y="413.8">TERs</text>
<text id="b3a" x="549.9" y="393.7">Missed opportunity to</text>
<text id="b3b" x="549.9" y="414.3">explore TERs</text>
</g>
<g font-size="16.9" text-anchor="middle">
<text id="n1" x="549.5" y="260">n=263</text>
<text id="n2" x="199" y="528">n=63</text>
<text id="n3" x="547.5" y="528">n=237</text>
</g>
<!-- legend -->
<text id="lt" x="72.5" y="26.3" font-size="19.55">Use of stoichiometric variable</text>
<g fill-opacity="0.9">
<circle cx="94.1" cy="48.9" r="11.95" fill="#009E73"/>
<circle cx="94.1" cy="77.9" r="11.95" fill="#D55E00"/>
<circle cx="94.1" cy="106.8" r="11.95" fill="#CC79A7"/>
<circle cx="94.1" cy="135.8" r="11.95" fill="#56B4E9"/>
</g>
<g font-size="17.5">
<text id="l1" x="108.9" y="55.4" textLength="143.6">Response variable</text>
<text id="l2" x="109.0" y="84.6" textLength="157.1">Explanatory variable</text>
<text id="l3" x="109.3" y="113.8" textLength="233.5">Both (response &amp; explanatory)</text>
<text id="l4" x="109.3" y="142.3" textLength="259.6">Neither (response or explanatory)</text>
</g>
<!-- frame -->
<rect x="66.9" y="2.05" width="614.95" height="533.9" fill="none" stroke="#333" stroke-width="2.05"/>
<!-- ticks -->
<g stroke="#333" stroke-width="1.8">
<line x1="60.9" y1="133.2" x2="66.5" y2="133.2"/>
<line x1="60.9" y1="403.8" x2="66.5" y2="403.8"/>
<line x1="199" y1="536" x2="199" y2="540.7"/>
<line x1="549.9" y1="536" x2="549.9" y2="540.7"/>
</g>
<g font-size="19.6">
<text id="yy" x="59.6" y="138.6" text-anchor="end">Yes</text>
<text id="yn" x="59.6" y="408.9" text-anchor="end">No</text>
<text id="xn" x="199.6" y="558.9" text-anchor="middle">No</text>
<text id="xy" x="548.9" y="560.5" text-anchor="middle">Yes</text>
</g>
<text id="xt" x="372.8" y="585.3" font-size="19.55" text-anchor="middle">Measurement of multiple elements</text>
<text id="yt" transform="translate(17.2,275.9) rotate(-90)" font-size="19.45" text-anchor="middle">Stoichiometry in statistical test</text>
</svg>
</body></html>
